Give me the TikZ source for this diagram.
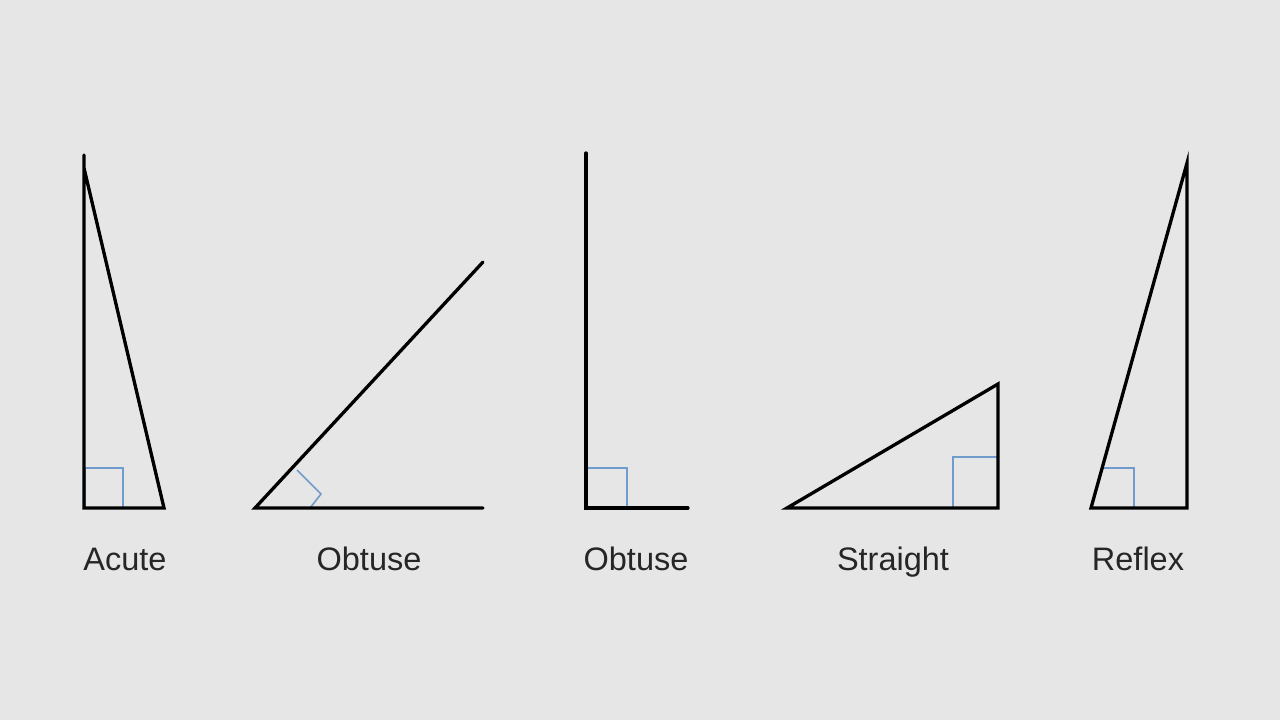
\documentclass[tikz,border=0pt]{standalone}
\usepackage{fontspec}
\setmainfont{Liberation Sans}
\usepackage{tikz}
\usetikzlibrary{calc,positioning}
\definecolor{fond}{RGB}{230,230,230}
\definecolor{bleu}{RGB}{112,155,205}
\newcommand{\coin}[3]{
\draw [bleu,line width=1.6pt] (#1,508) -- (#1,#2) -- (#1+#3,#2) -- (#1+#3,508);
}
\tikzset{trait/.style={black,line width=3.3pt,line join=miter,line cap=round},
         nom/.style={font=\fontsize{32.5}{38}\selectfont,text=black!85,anchor=base}}

\begin{document}
\begin{tikzpicture}[x=1pt,y=-1pt]
\fill[fond] (0,0) rectangle (1280,720);
\useasboundingbox (0,0) rectangle (1280,720);

% marques d'angle droit
\coin{85}{468}{38}
\draw [bleu,line width=1.6pt] (297,470) -- (321,494) -- (310,508);
\coin{587}{468}{40}
\coin{953}{457}{45}
\draw [bleu,line width=1.6pt] (1102,468) -- (1134,468) -- (1134,508);

% Acute
\draw[trait] (84,155) -- (84,508) -- (164,508) -- (84,168);
\node[nom] (acute) at (125,570) {Acute};

% Obtuse
\draw[trait] (483,508) -- (255,508) -- (483,262);
\node[nom] (obtus1) at (369,570) {Obtuse};

% Obtuse
\draw[trait] (586,153) -- (586,508) -- (688,508);
\node[nom] (obtus2) at (636,570) {Obtuse};

% Straight
\draw[trait] (787,508) -- (998,508) -- (998,384) -- cycle;
\node[nom] (plat) at (893,570) {Straight};

% Reflex
\draw[trait] (1187,163) -- (1187,508) -- (1091,508) -- cycle;
\node[nom] (rentrant) at (1138,570) {Reflex};

\end{tikzpicture}
\end{document}
